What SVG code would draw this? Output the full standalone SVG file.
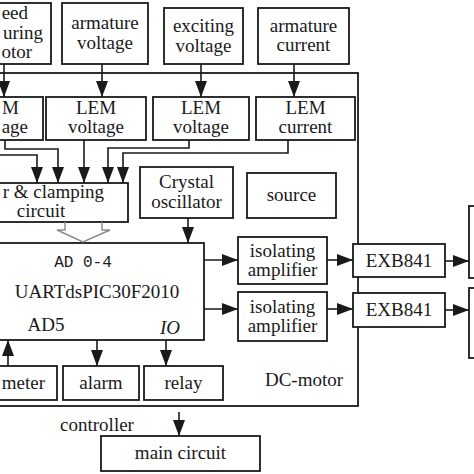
<svg xmlns="http://www.w3.org/2000/svg" width="474" height="474" viewBox="0 0 474 474">
<defs>
<marker id="ah" markerUnits="userSpaceOnUse" markerWidth="16" markerHeight="12" refX="16" refY="6" orient="auto">
<path d="M0,0 L16,6 L0,12 z" fill="#1a1a1a"/>
</marker>
</defs>
<style>
rect{fill:#fff;stroke:#1a1a1a;stroke-width:1.8}
.c path,.c line{fill:none;stroke:#1a1a1a;stroke-width:1.6}
text{font-family:"Liberation Serif","Times New Roman",serif;font-size:19px;fill:#1a1a1a;text-anchor:middle}
.e{text-anchor:end}
.m{font-family:"Liberation Mono","DejaVu Sans Mono",monospace;font-size:16px}
.i{font-style:italic}
</style>
<rect id="enclosure" x="-5" y="73" width="363" height="333" style="fill:none"/>
<g id="n-speed"><rect x="-46" y="3" width="97" height="61"/><text class="e" x="28" y="19">eed</text><text class="e" x="43" y="38.5">uring</text><text class="e" x="32" y="58">otor</text></g>
<g id="n-armv"><rect x="62" y="3" width="86" height="61"/><text x="105" y="29">armature</text><text x="105" y="49">voltage</text></g>
<g id="n-excv"><rect x="164" y="8" width="79" height="56"/><text x="203.5" y="32">exciting</text><text x="203.5" y="52">voltage</text></g>
<g id="n-armc"><rect x="258" y="8" width="91" height="56"/><text x="303.5" y="32">armature</text><text x="303.5" y="51">current</text></g>
<g id="n-lem1"><rect x="-57" y="97" width="100" height="43"/><text class="e" x="19" y="114">M</text><text class="e" x="28" y="133">age</text></g>
<g id="n-lem2"><rect x="46" y="97" width="100" height="43"/><text x="96" y="114">LEM</text><text x="96" y="133">voltage</text></g>
<g id="n-lem3"><rect x="153" y="97" width="96" height="43"/><text x="201" y="114">LEM</text><text x="201" y="133">voltage</text></g>
<g id="n-lem4"><rect x="256" y="97" width="99" height="43"/><text x="305.5" y="114">LEM</text><text x="305.5" y="133">current</text></g>
<g id="n-filter"><rect x="-50" y="183" width="178" height="39"/><text class="e" x="104" y="198">r &amp; clamping</text><text x="41" y="217">circuit</text></g>
<g id="n-crystal"><rect x="140" y="167" width="93" height="51"/><text x="186.5" y="188">Crystal</text><text x="186.5" y="208">oscillator</text></g>
<g id="n-source"><rect x="247" y="173" width="89" height="45"/><text x="291.5" y="201">source</text></g>
<g id="n-mcu"><rect x="-5" y="243" width="209" height="97"/><text class="m" x="83" y="267">AD 0-4</text><text x="97" y="298">UARTdsPIC30F2010</text><text x="46" y="331">AD5</text><text class="i" x="170" y="334">IO</text></g>
<g id="n-iso1"><rect x="238" y="237" width="89" height="47"/><text x="282.5" y="257">isolating</text><text x="282.5" y="276">amplifier</text></g>
<g id="n-iso2"><rect x="238" y="292" width="89" height="49"/><text x="282.5" y="313">isolating</text><text x="282.5" y="332">amplifier</text></g>
<g id="n-exb1"><rect x="353" y="244" width="92" height="33"/><text x="399" y="267">EXB841</text></g>
<g id="n-exb2"><rect x="353" y="293" width="92" height="34"/><text x="399" y="316">EXB841</text></g>
<g id="n-r1"><rect x="469" y="206" width="20" height="72"/></g>
<g id="n-r2"><rect x="469" y="288" width="20" height="70"/></g>
<g id="n-meter"><rect x="-5" y="366" width="62" height="34"/><text class="e" x="45" y="389">meter</text></g>
<g id="n-alarm"><rect x="63" y="366" width="76" height="34"/><text x="101" y="389">alarm</text></g>
<g id="n-relay"><rect x="144" y="366" width="79" height="34"/><text x="183.5" y="389">relay</text></g>
<g id="n-main"><rect x="101" y="436" width="159" height="35"/><text x="180.5" y="459">main circuit</text></g>
<g id="labels"><text x="304" y="386">DC-motor</text><text x="97" y="431">controller</text></g>
<g class="c" id="connectors">
<path d="M4,64 V97" marker-end="url(#ah)"/>
<path d="M102,64 V97" marker-end="url(#ah)"/>
<path d="M201,64 V97" marker-end="url(#ah)"/>
<path d="M294,64 V97" marker-end="url(#ah)"/>
<path d="M0,155 H37 V183" marker-end="url(#ah)"/>
<path d="M5,140 V149 H58 V183" marker-end="url(#ah)"/>
<path d="M84,140 V183" marker-end="url(#ah)"/>
<path d="M189,140 V148 H108 V183" marker-end="url(#ah)"/>
<path d="M288,140 V153 H123 V183" marker-end="url(#ah)"/>
<path d="M65,222 V230 H57 L83,242 L110,230 H102 V222" style="stroke:#8a8a8a;stroke-width:1.4"/>
<path d="M188,218 V243" marker-end="url(#ah)"/>
<path d="M204,260 H238" marker-end="url(#ah)"/>
<path d="M204,309 H238" marker-end="url(#ah)"/>
<path d="M327,260 H353" marker-end="url(#ah)"/>
<path d="M327,309 H353" marker-end="url(#ah)"/>
<path d="M445,261 H469" marker-end="url(#ah)"/>
<path d="M445,310 H469" marker-end="url(#ah)"/>
<path d="M8,366 V340" marker-end="url(#ah)"/>
<path d="M97,340 V366" marker-end="url(#ah)"/>
<path d="M166,340 V366" marker-end="url(#ah)"/>
<path d="M179,412 V436" marker-end="url(#ah)"/>
</g>
</svg>
